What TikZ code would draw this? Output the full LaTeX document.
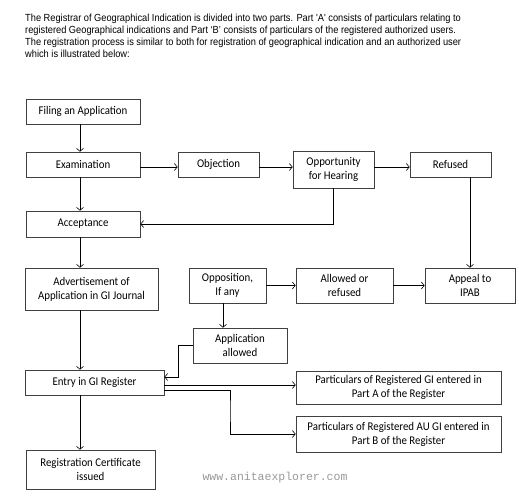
\documentclass[tikz,border=0pt]{standalone}
\usepackage{fontspec}
\setmainfont{Carlito}
\newfontfamily\hfont[FakeStretch=0.9]{Liberation Sans}
\newfontfamily\bfontx[FakeStretch=0.92]{Carlito}
\newfontfamily\wfont{Liberation Mono}
\usetikzlibrary{arrows.meta}
\begin{document}
\begin{tikzpicture}[x=1pt,y=-1pt,
  box/.style={draw=black!75,line width=0.6pt,rectangle,inner sep=1pt,align=center,
    font=\bfontx\fontsize{11.8}{14}\selectfont},
  arr/.style={line width=0.6pt,-{Straight Barb[length=3pt,width=7pt]}},
  ln/.style={line width=0.6pt},
  hl/.style={anchor=base west,inner sep=0pt,font=\hfont\fontsize{10.3}{12}\selectfont}]
\useasboundingbox (0,0) rectangle (519,499);
\fill[white] (0,0) rectangle (519,499);
% heading
\node[hl] (h1) at (25,21) {The Registrar of Geographical Indication is divided into two parts. Part 'A' consists of particulars relating to};
\node[hl] (h2) at (25,33) {registered Geographical indications and Part ‘B’ consists of particulars of the registered authorized users.};
\node[hl] (h3) at (25,45) {The registration process is similar to both for registration of geographical indication and an authorized user};
\node[hl] (h4) at (25,57) {which is illustrated below:};
% boxes
\node[box,minimum width=114,minimum height=25] (filing) at (83,111.5) {Filing an Application};
\node[box,minimum width=114,minimum height=25] (exam) at (83,164.5) {Examination};
\node[box,minimum width=81,minimum height=25] (obj) at (218.5,164.5) {Objection};
\node[box,minimum width=81,minimum height=37] (opp) at (333.5,169.5) {Opportunity\\for Hearing};
\node[box,minimum width=81,minimum height=25] (ref) at (450.5,164.5) {Refused};
\node[box,minimum width=114,minimum height=26] (acc) at (83,224) {Acceptance};
\node[box,minimum width=133,minimum height=42] (adv) at (91.5,289) {Advertisement of\\Application in GI Journal};
\node[box,minimum width=77,minimum height=35] (oppo) at (227.5,285.5) {Opposition,\\If any};
\node[box,minimum width=97,minimum height=35] (allow) at (344.5,285.5) {Allowed or\\refused};
\node[box,minimum width=90,minimum height=35] (appeal) at (470,285.5) {Appeal to\\IPAB};
\node[box,minimum width=94,minimum height=35] (appall) at (240,345.5) {Application\\allowed};
\node[box,minimum width=139,minimum height=25] (entry) at (94.5,382.5) {Entry in GI Register};
\node[box,minimum width=205,minimum height=33] (partA) at (398.5,387.5) {Particulars of Registered GI entered in\\Part A of the Register};
\node[box,minimum width=205,minimum height=36] (partB) at (398.5,434) {Particulars of Registered AU GI entered in\\Part B of the Register};
\node[box,minimum width=129,minimum height=39] (cert) at (90.5,469.5) {Registration Certificate\\issued};
\node[font=\wfont\fontsize{11.5}{12}\selectfont,text=black!40,inner sep=0pt] (wm) at (275,478) {www.anitaexplorer.com};
% helper coordinates
\coordinate (cx) at (80,0);
\coordinate (cy) at (0,167);
\coordinate (cz) at (223,0);
\coordinate (c377) at (0,377);
\coordinate (c385) at (0,385);
\coordinate (c390) at (0,390);
% connectors
\draw[arr] (filing.south -| cx) -- (exam.north -| cx);
\draw[arr] (exam.south -| cx) -- (acc.north -| cx);
\draw[arr] (acc.south -| cx) -- (adv.north -| cx);
\draw[arr] (adv.south -| cx) -- (entry.north -| cx);
\draw[arr] (entry.south -| cx) -- (cert.north -| cx);
\draw[arr] (exam.east |- cy) -- (obj.west |- cy);
\draw[arr] (obj.east |- cy) -- (opp.west |- cy);
\draw[arr] (opp.east |- cy) -- (ref.west |- cy);
\draw[arr] (opp.south) |- (acc.east);
\draw[arr] (ref.south -| appeal.north) -- (appeal.north);
\draw[arr] (oppo.east) -- (allow.west);
\draw[arr] (allow.east) -- (appeal.west);
\draw[arr] (oppo.south -| cz) -- (appall.north -| cz);
\draw[arr] (appall.west) -- ++(-14,0) |- (entry.east |- c377);
\draw[arr] (entry.east |- c385) -- (partA.west |- c385);
\draw[arr] (entry.east |- c390) -| (230,410) |- (partB.west);
\end{tikzpicture}
\end{document}
